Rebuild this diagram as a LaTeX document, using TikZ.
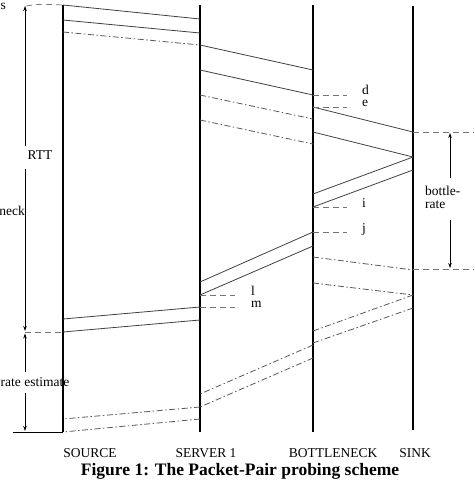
\documentclass[tikz,border=0pt]{standalone}
\usepackage{fontspec}
\setmainfont{Liberation Serif}
\usetikzlibrary{arrows.meta}
\begin{document}
\begin{tikzpicture}[x=1pt,y=-1pt,
  life/.style={line width=2.4pt,black},
  pkt/.style={line width=0.8pt,black!75},
  ack/.style={line width=0.8pt,black!65,dash pattern=on 6pt off 2.5pt on 1.5pt off 2.5pt},
  tick/.style={line width=0.7pt,black!55,dash pattern=on 6pt off 4pt},
  lbl/.style={font=\fontsize{13.5}{15}\selectfont,inner sep=0pt},
  arr/.style={line width=0.7pt,black,-{Stealth[length=5pt,width=3.5pt]}}]
\useasboundingbox (0,0) rectangle (474,481);
% lifelines
\coordinate (srcT) at (63,5);   \coordinate (srcB) at (63,432);
\coordinate (srvT) at (200,5);  \coordinate (srvB) at (200,432);
\coordinate (botT) at (313,5);  \coordinate (botB) at (313,432);
\coordinate (snkT) at (413,6);  \coordinate (snkB) at (413,430);
\draw[life] (srcT) -- (srcB);
\draw[life] (srvT) -- (srvB);
\draw[life] (botT) -- (botB);
\draw[life] (snkT) -- (snkB);
% solid packets
\coordinate (a1) at (63,5);   \coordinate (a2) at (200,19);
\coordinate (b1) at (63,20);  \coordinate (b2) at (200,33);
\coordinate (c1) at (200,45); \coordinate (c2) at (313,70);
\coordinate (d1) at (200,70); \coordinate (d2) at (313,95);
\coordinate (e1) at (313,107);\coordinate (e2) at (413,132);
\coordinate (f1) at (313,132);\coordinate (f2) at (413,157);
\coordinate (g1) at (413,157);\coordinate (g2) at (313,194);
\coordinate (h1) at (413,170);\coordinate (h2) at (313,207);
\coordinate (i1) at (313,232);\coordinate (i2) at (200,282);
\coordinate (j1) at (313,246);\coordinate (j2) at (200,295);
\coordinate (k1) at (200,307);\coordinate (k2) at (63,319);
\coordinate (l1) at (200,320);\coordinate (l2) at (63,332);
\foreach \p in {a,b,c,d,e,f,g,h,i,j,k,l} \draw[pkt] (\p1) -- (\p2);
% dash-dot packets
\coordinate (m1) at (63,32);  \coordinate (m2) at (200,45);
\coordinate (n1) at (200,95); \coordinate (n2) at (313,119);
\coordinate (o1) at (200,120);\coordinate (o2) at (313,144);
\coordinate (p1) at (313,257);\coordinate (p2) at (413,270);
\coordinate (q1) at (313,283);\coordinate (q2) at (413,295);
\coordinate (r1) at (413,295);\coordinate (r2) at (313,331);
\coordinate (s1) at (413,308);\coordinate (s2) at (313,343);
\coordinate (t1) at (313,345);\coordinate (t2) at (200,394);
\coordinate (u1) at (313,358);\coordinate (u2) at (200,407);
\coordinate (v1) at (200,407);\coordinate (v2) at (63,419);
\coordinate (w1) at (200,419);\coordinate (w2) at (63,432);
\foreach \p in {m,n,o,p,q,r,s,t,u,v,w} \draw[ack] (\p1) -- (\p2);
% event ticks and letters
\foreach \yy/\tt in {95/d,107/e,207/i,232/j}{
  \coordinate (tk\tt) at (313,\yy); \coordinate (te\tt) at (347,\yy);
  \draw[tick] (tk\tt) -- (te\tt);
  \node[lbl,anchor=base west] (lab\tt) at (362,\yy) {\tt};}
\foreach \yy/\tt in {295/l,307/m}{
  \coordinate (tk\tt) at (200,\yy); \coordinate (te\tt) at (235,\yy);
  \draw[tick] (tk\tt) -- (te\tt);
  \node[lbl,anchor=base west] (lab\tt) at (251,\yy) {\tt};}
% left annotations
\coordinate (topL) at (26,6);
\coordinate (midL) at (25,332);
\coordinate (botL) at (13,432);
\draw[tick] (topL) .. controls (40,4) .. (srcT);
\draw[tick] (midL) -- (l2);
\draw[pkt,black] (botL) -- (srcB);
\coordinate (r1a) at (25,146); \coordinate (r1b) at (25,169);
\draw[arr] (r1a) -- (25,6);
\draw[arr] (r1b) -- (25,331);
\coordinate (r2a) at (25,372); \coordinate (r2b) at (25,393);
\draw[arr] (r2a) -- (25,333.5);
\draw[arr] (r2b) -- (25,431);
\node[lbl,anchor=base west] (ls) at (0.5,10) {s};
\node[lbl,anchor=base] (lrtt) at (40,159) {RTT};
\node[lbl,anchor=base east] (lneck) at (25,215) {neck};
\node[lbl,anchor=base] (lrate) at (35,386) {rate estimate};
% right annotations
\coordinate (rt1) at (474,132); \coordinate (rt2) at (474,269);
\coordinate (snkA) at (413,269);
\draw[tick] (e2) -- (rt1);
\draw[tick] (snkA) -- (rt2);
\draw[arr] (450,178) -- (450,133);
\draw[arr] (450,220) -- (450,268);
\node[lbl,anchor=base west] (lb1) at (425,195) {bottle-};
\node[lbl,anchor=base west] (lb2) at (425,208) {rate};
% bottom labels
\node[lbl,anchor=base] (nsrc) at (90,457) {SOURCE};
\node[lbl,anchor=base] (nsrv) at (206,457) {SERVER 1};
\node[lbl,anchor=base] (nbot) at (333,457) {BOTTLENECK};
\node[lbl,anchor=base] (nsnk) at (415,457) {SINK};
\node[inner sep=0pt,anchor=base,font=\fontsize{17.5}{19}\selectfont\bfseries] (cap) at (240,475) {Figure 1: The Packet-Pair probing scheme};
\end{tikzpicture}
\end{document}
